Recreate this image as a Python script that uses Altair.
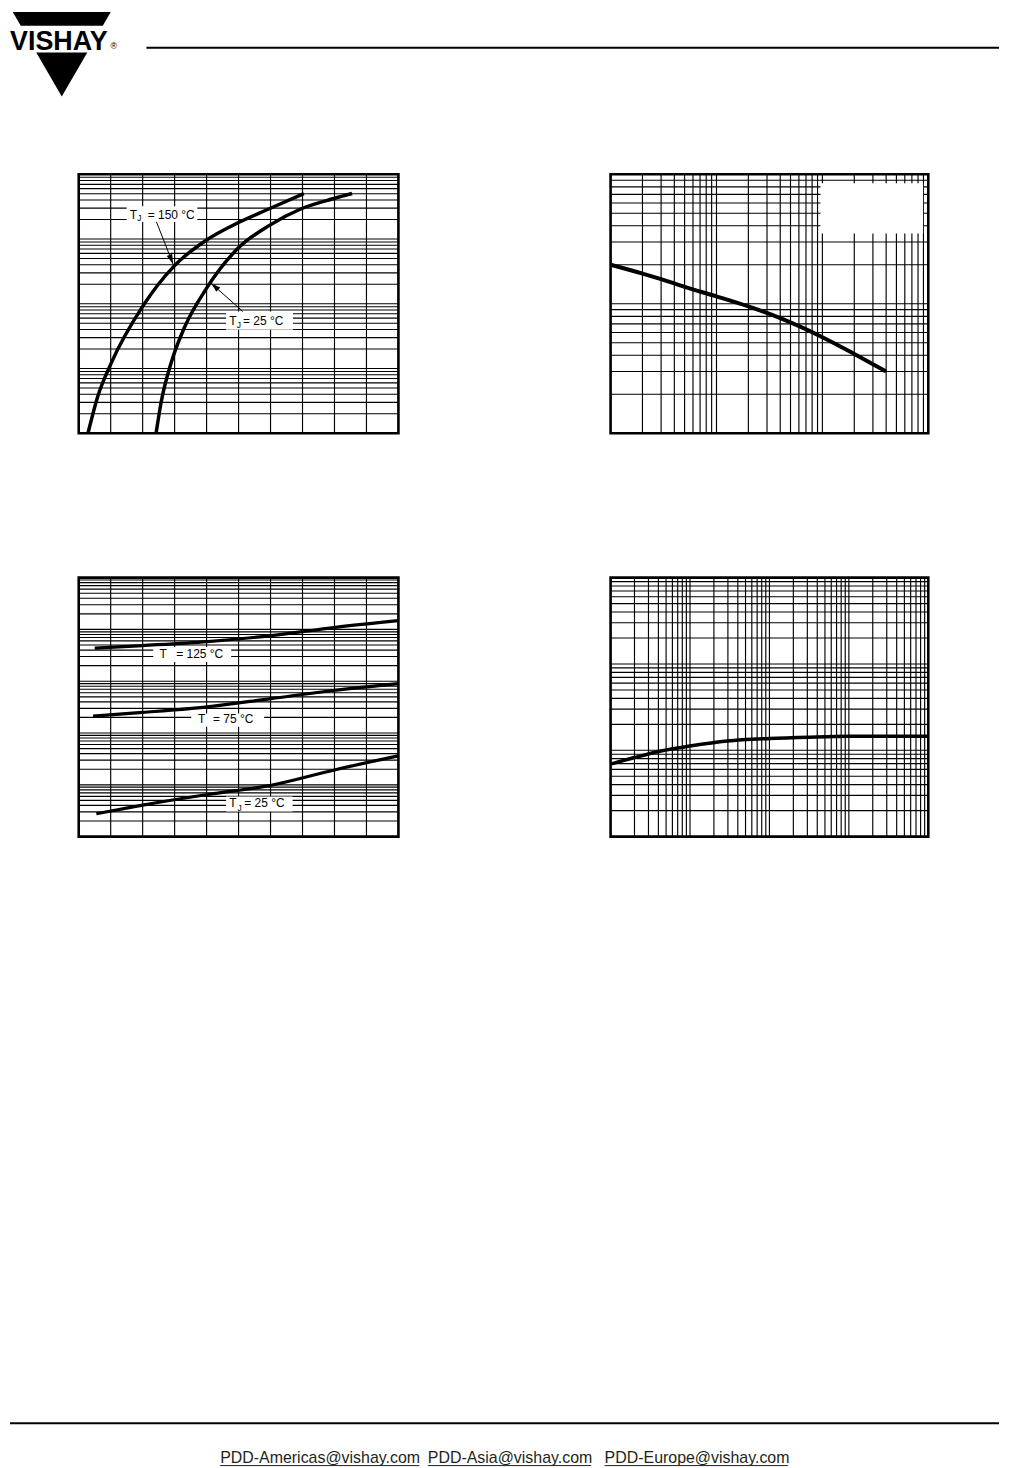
import altair as alt
import pandas as pd

# ---------------- values ----------------
# Panel 1: instantaneous forward characteristics (V -> A), two junction temperatures
fwd_v_150 = [0.029, 0.060, 0.102, 0.200, 0.299, 0.400, 0.498, 0.598, 0.704]
fwd_i_150 = [0.01, 0.0375, 0.122, 0.91, 3.85, 9.66, 17.8, 29.6, 50.4]
fwd_v_25 = [0.242, 0.2575, 0.289, 0.330, 0.400, 0.498, 0.598, 0.698, 0.798, 0.855]
fwd_i_25 = [0.01, 0.0296, 0.122, 0.423, 1.74, 7.18, 16.4, 29.6, 42.2, 50.4]

# Panel 2: junction capacitance vs reverse voltage
cap_vr = [0.1, 0.2, 0.3, 0.5, 1, 2, 4, 10, 20, 40]
cap_pf = [200, 171, 155, 135, 114, 95.3, 77.4, 55.2, 41, 30]

# Panel 3: reverse leakage vs percent of rated voltage
rev_pct_125 = [5, 20, 40.3, 60.2, 80.3, 100]
rev_ir_125 = [4.35, 4.89, 5.84, 7.6, 11.0, 14.8]
rev_pct_75 = [4.5, 20, 40.3, 60.2, 80.3, 100]
rev_ir_75 = [0.212, 0.25, 0.321, 0.463, 0.67, 0.9]
rev_pct_25 = [5.5, 20, 40.3, 60.2, 80.3, 100]
rev_ir_25 = [0.00276, 0.00405, 0.00649, 0.0098, 0.0196, 0.0363]

# Panel 4: transient thermal impedance vs pulse duration
tz_t = [0.01, 0.02, 0.043, 0.1, 0.293, 1, 3.22, 10, 35.5, 100]
tz_z = [0.69, 0.824, 0.982, 1.12, 1.28, 1.37, 1.42, 1.45, 1.45, 1.45]

# label texts
p1_labels = ['= 150 °C', '= 25 °C']
p3_labels = ['= 125 °C', '= 75 °C', '= 25 °C']
footer_mails = ['PDD-Americas@vishay.com', 'PDD-Asia@vishay.com', 'PDD-Europe@vishay.com']
logo_text = 'VISHAY'

FONT = 'Liberation Sans'
INK = 'black'
LBL = 12
GRID_W = 1.15


def log_ticks(e0, e1):
    return [m * 10.0 ** e for e in range(e0, e1) for m in range(1, 10)] + [10.0 ** e1]


def lin_ticks(lo, hi, n):
    step = (hi - lo) / n
    return [round(lo + i * step, 6) for i in range(n + 1)]


def panel(series, xs, xv, ys, yv, w, h, lw, boxes=None, Tmarks=None,
          Jmarks=None, rests=None, arrows=None):
    X = alt.X('x:Q', scale=xs, axis=None)
    Y = alt.Y('y:Q', scale=ys, axis=None)
    layers = [
        alt.Chart(pd.DataFrame({'x': xv})).mark_rule(
            color=INK, strokeWidth=GRID_W).encode(x=X),
        alt.Chart(pd.DataFrame({'y': yv})).mark_rule(
            color=INK, strokeWidth=GRID_W).encode(y=Y),
    ]
    if boxes is not None:
        layers.append(alt.Chart(boxes).mark_rect(color='white').encode(
            x=X, x2='x2:Q', y=Y, y2='y2:Q'))
    layers.append(alt.Chart(series).mark_line(
        color=INK, strokeWidth=lw, interpolate='monotone', clip=True,
        strokeCap='butt').encode(x=X, y=Y, detail='s:N'))
    if arrows is not None:
        layers.append(alt.Chart(arrows).mark_rule(color=INK, strokeWidth=1).encode(
            x=X, y=Y, x2='x2:Q', y2='y2:Q'))
        heads = arrows[['x2', 'y2', 'ang']].rename(columns={'x2': 'x', 'y2': 'y'})
        layers.append(alt.Chart(heads).mark_point(
            shape='M0,0L-0.3,-1L0.3,-1Z', filled=True, color=INK, opacity=1,
            size=380).encode(x=X, y=Y, angle=alt.Angle('ang:Q', scale=None)))
    if Tmarks is not None:
        layers.append(alt.Chart(Tmarks).mark_text(
            font=FONT, fontSize=LBL, align='left', baseline='alphabetic',
            color=INK).encode(x=X, y=Y, text='t:N'))
    if Jmarks is not None:
        layers.append(alt.Chart(Jmarks).mark_text(
            font=FONT, fontSize=8.5, align='left', baseline='alphabetic',
            color=INK).encode(x=X, y=Y, text='t:N'))
    if rests is not None:
        layers.append(alt.Chart(rests).mark_text(
            font=FONT, fontSize=LBL, align='left', baseline='alphabetic',
            color=INK).encode(x=X, y=Y, text='t:N'))
    return alt.layer(*layers).properties(
        width=w, height=h,
        view=alt.ViewBackground(stroke=INK, strokeWidth=2.6))


def spacer(w, h):
    return alt.Chart(pd.DataFrame({'k': [0]})).mark_point(
        opacity=0, size=1).encode(x=alt.value(w / 2), y=alt.value(h / 2)).properties(
        width=w, height=h)


# ---------------- panel 1 ----------------
s1 = pd.DataFrame({
    'x': fwd_v_150 + fwd_v_25,
    'y': fwd_i_150 + fwd_i_25,
    's': ['150'] * len(fwd_v_150) + ['25'] * len(fwd_v_25)})
b1 = pd.DataFrame({'x': [0.150, 0.461], 'x2': [0.371, 0.670],
                   'y': [18.3, 0.398], 'y2': [32.2, 0.762]})
t1 = pd.DataFrame({'x': [0.160, 0.471], 'y': [20.6, 0.475], 't': ['T', 'T']})
j1 = pd.DataFrame({'x': [0.183, 0.494], 'y': [18.9, 0.428], 't': ['J', 'J']})
r1 = pd.DataFrame({'x': [0.216, 0.514], 'y': [20.6, 0.475], 't': p1_labels})
a1 = pd.DataFrame({'x': [0.243, 0.513], 'y': [18.5, 0.762],
                   'x2': [0.295, 0.414], 'y2': [4.12, 2.08], 'ang': [338.5, 131.8]})
P1 = panel(s1, alt.Scale(type='linear', domain=[0, 1], nice=False, zero=False),
           lin_ticks(0, 1, 10),
           alt.Scale(type='log', domain=[0.01, 100], nice=False), log_ticks(-2, 2),
           321, 260, 3.5, boxes=b1, Tmarks=t1, Jmarks=j1, rests=r1, arrows=a1)

# ---------------- panel 2 ----------------
s2 = pd.DataFrame({'x': cap_vr, 'y': cap_pf, 's': ['c'] * len(cap_vr)})
b2 = pd.DataFrame({'x': [9.6], 'x2': [89.4], 'y': [349], 'y2': [851]})
P2 = panel(s2, alt.Scale(type='log', domain=[0.1, 100], nice=False), log_ticks(-1, 2),
           alt.Scale(type='log', domain=[10, 1000], nice=False), log_ticks(1, 3),
           319, 260, 4, boxes=b2)

# ---------------- panel 3 ----------------
s3 = pd.DataFrame({
    'x': rev_pct_125 + rev_pct_75 + rev_pct_25,
    'y': rev_ir_125 + rev_ir_75 + rev_ir_25,
    's': ['125'] * len(rev_pct_125) + ['75'] * len(rev_pct_75) + ['25'] * len(rev_pct_25)})
b3 = pd.DataFrame({'x': [23.3, 35.2, 46.1], 'x2': [47.7, 58.0, 66.9],
                   'y': [2.35, 0.132, 0.00307], 'y2': [4.57, 0.239, 0.00596]})
t3 = pd.DataFrame({'x': [25.3, 37.3, 47.1], 'y': [2.81, 0.153, 0.00366], 't': ['T', 'T', 'T']})
j3 = pd.DataFrame({'x': [49.7], 'y': [0.00316], 't': ['J']})
r3 = pd.DataFrame({'x': [30.5, 42.0, 51.8], 'y': [2.81, 0.153, 0.00366], 't': p3_labels})
P3 = panel(s3, alt.Scale(type='linear', domain=[0, 100], nice=False, zero=False),
           lin_ticks(0, 100, 10),
           alt.Scale(type='log', domain=[0.001, 100], nice=False), log_ticks(-3, 2),
           321, 260, 3.2, boxes=b3, Tmarks=t3, Jmarks=j3, rests=r3)

# ---------------- panel 4 ----------------
s4 = pd.DataFrame({'x': tz_t, 'y': tz_z, 's': ['z'] * len(tz_t)})
P4 = panel(s4, alt.Scale(type='log', domain=[0.01, 100], nice=False), log_ticks(-2, 2),
           alt.Scale(type='log', domain=[0.1, 100], nice=False), log_ticks(-1, 2),
           319, 260, 3.5)

# ---------------- header (logo + rule) ----------------
one = pd.DataFrame({'k': [0]})
HW, HH = 993, 160
tri = alt.Chart(one).mark_point(
    shape='M-1,-0.864L1,-0.864L0,0.864Z', filled=True, color=INK, opacity=1,
    size=9683).encode(x=alt.value(52), y=alt.value(42.5))
band = alt.Chart(one).mark_rect(color='white').encode(
    x=alt.value(0), x2=alt.value(115), y=alt.value(14), y2=alt.value(40.7))
logo = alt.Chart(one).mark_text(
    text=logo_text, font=FONT, fontWeight='bold', fontSize=27, align='left',
    baseline='alphabetic', color=INK).encode(x=alt.value(0), y=alt.value(37.8))
reg = alt.Chart(one).mark_text(
    text='®', font=FONT, fontSize=9, align='left', baseline='alphabetic',
    color=INK).encode(x=alt.value(101), y=alt.value(37))
hrule = alt.Chart(one).mark_rule(color=INK, strokeWidth=2).encode(
    x=alt.value(137), x2=alt.value(HW), y=alt.value(36))
header = alt.layer(tri, band, logo, reg, hrule).properties(width=HW, height=HH)

# ---------------- footer ----------------
FH = 630
frule = alt.Chart(one).mark_rule(color=INK, strokeWidth=2).encode(
    x=alt.value(0), x2=alt.value(HW), y=alt.value(586))
flayers = [frule]
starts = [211, 419.5, 597]
widths = [200, 164, 184]
for txt, x0, wd in zip(footer_mails, starts, widths):
    flayers.append(alt.Chart(one).mark_text(
        text=txt, font=FONT, fontSize=16, align='left', baseline='alphabetic',
        color='#231f20').encode(x=alt.value(x0), y=alt.value(626)))
    flayers.append(alt.Chart(one).mark_rule(color='#231f20', strokeWidth=1).encode(
        x=alt.value(x0), x2=alt.value(x0 + wd), y=alt.value(628.5)))
footer = alt.layer(*flayers).properties(width=HW, height=FH)

row1 = alt.hconcat(spacer(69, 260), P1, spacer(213, 260), P2, spacing=0, bounds='flush')
row2 = alt.hconcat(spacer(69, 260), P3, spacer(213, 260), P4, spacing=0, bounds='flush')

chart = alt.vconcat(header, row1, spacer(HW, 139), row2, footer,
                    spacing=0).properties(
    padding=0, background='white'
).configure_view(stroke='transparent')

chart.save("out.html", embed_options={"renderer": "svg", "actions": False})
